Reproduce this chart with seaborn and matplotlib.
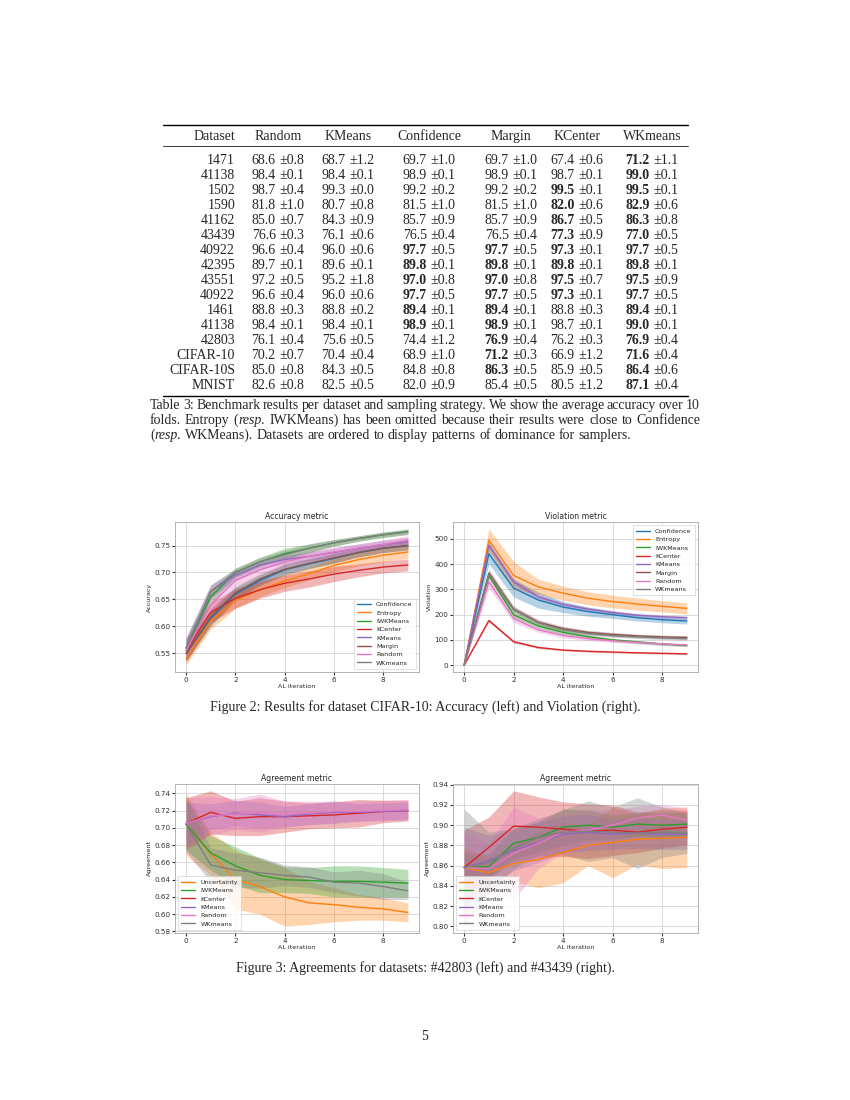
import numpy as np
import pandas as pd
import matplotlib
matplotlib.use("Agg")
import matplotlib.pyplot as plt
from matplotlib.lines import Line2D
from matplotlib.ticker import MultipleLocator
import seaborn as sns

W, H = 850, 1100
SERIF = "Liberation Serif"

# ---------------- Table 3 data ----------------
datasets = ["1471", "41138", "1502", "1590", "41162", "43439", "40922", "42395",
            "43551", "40922", "1461", "41138", "42803", "CIFAR-10", "CIFAR-10S", "MNIST"]
methods = ["Random", "KMeans", "Confidence", "Margin", "KCenter", "WKmeans"]

random_mean = [68.6, 98.4, 98.7, 81.8, 85.0, 76.6, 96.6, 89.7, 97.2, 96.6, 88.8, 98.4, 76.1, 70.2, 85.0, 82.6]
random_sd = [0.8, 0.1, 0.4, 1.0, 0.7, 0.3, 0.4, 0.1, 0.5, 0.4, 0.3, 0.1, 0.4, 0.7, 0.8, 0.8]
kmeans_mean = [68.7, 98.4, 99.3, 80.7, 84.3, 76.1, 96.0, 89.6, 95.2, 96.0, 88.8, 98.4, 75.6, 70.4, 84.3, 82.5]
kmeans_sd = [1.2, 0.1, 0.0, 0.8, 0.9, 0.6, 0.6, 0.1, 1.8, 0.6, 0.2, 0.1, 0.5, 0.4, 0.5, 0.5]
confidence_mean = [69.7, 98.9, 99.2, 81.5, 85.7, 76.5, 97.7, 89.8, 97.0, 97.7, 89.4, 98.9, 74.4, 68.9, 84.8, 82.0]
confidence_sd = [1.0, 0.1, 0.2, 1.0, 0.9, 0.4, 0.5, 0.1, 0.8, 0.5, 0.1, 0.1, 1.2, 1.0, 0.8, 0.9]
margin_mean = [69.7, 98.9, 99.2, 81.5, 85.7, 76.5, 97.7, 89.8, 97.0, 97.7, 89.4, 98.9, 76.9, 71.2, 86.3, 85.4]
margin_sd = [1.0, 0.1, 0.2, 1.0, 0.9, 0.4, 0.5, 0.1, 0.8, 0.5, 0.1, 0.1, 0.4, 0.3, 0.5, 0.5]
kcenter_mean = [67.4, 98.7, 99.5, 82.0, 86.7, 77.3, 97.3, 89.8, 97.5, 97.3, 88.8, 98.7, 76.2, 66.9, 85.9, 80.5]
kcenter_sd = [0.6, 0.1, 0.1, 0.6, 0.5, 0.9, 0.1, 0.1, 0.7, 0.1, 0.3, 0.1, 0.3, 1.2, 0.5, 1.2]
wkmeans_mean = [71.2, 99.0, 99.5, 82.9, 86.3, 77.0, 97.7, 89.8, 97.5, 97.7, 89.4, 99.0, 76.9, 71.6, 86.4, 87.1]
wkmeans_sd = [1.1, 0.1, 0.1, 0.6, 0.8, 0.5, 0.5, 0.1, 0.9, 0.5, 0.1, 0.1, 0.4, 0.4, 0.6, 0.4]

# rows printed in bold for each method
random_bold = []
kmeans_bold = []
confidence_bold = [6, 7, 8, 9, 10, 11]
margin_bold = [6, 7, 8, 9, 10, 11, 12, 13, 14]
kcenter_bold = [2, 3, 4, 5, 6, 7, 8, 9]
wkmeans_bold = list(range(16))

# ---------------- Figure 2 / 3 data ----------------
iterations = list(range(10))

acc_mean = {
    "Confidence": [0.550, 0.615, 0.660, 0.685, 0.705, 0.716, 0.726, 0.737, 0.745, 0.750],
    "Entropy": [0.540, 0.610, 0.648, 0.668, 0.684, 0.698, 0.713, 0.724, 0.732, 0.738],
    "IWKMeans": [0.560, 0.655, 0.700, 0.720, 0.735, 0.745, 0.755, 0.763, 0.770, 0.776],
    "KCenter": [0.555, 0.626, 0.652, 0.668, 0.680, 0.688, 0.697, 0.704, 0.710, 0.714],
    "KMeans": [0.560, 0.665, 0.695, 0.714, 0.724, 0.730, 0.737, 0.745, 0.752, 0.757],
    "Margin": [0.550, 0.618, 0.662, 0.688, 0.706, 0.717, 0.727, 0.737, 0.745, 0.750],
    "Random": [0.555, 0.640, 0.685, 0.705, 0.720, 0.730, 0.738, 0.745, 0.752, 0.760],
    "WKmeans": [0.560, 0.665, 0.700, 0.720, 0.733, 0.745, 0.755, 0.763, 0.770, 0.775],
}
acc_sd = {
    "Confidence": [0.015, 0.015, 0.012, 0.010, 0.010, 0.009, 0.009, 0.008, 0.008, 0.008],
    "Entropy": [0.012, 0.015, 0.015, 0.013, 0.012, 0.012, 0.012, 0.012, 0.012, 0.012],
    "IWKMeans": [0.018, 0.012, 0.008, 0.008, 0.010, 0.008, 0.006, 0.005, 0.005, 0.005],
    "KCenter": [0.020, 0.018, 0.018, 0.016, 0.015, 0.015, 0.014, 0.012, 0.011, 0.011],
    "KMeans": [0.020, 0.012, 0.010, 0.008, 0.008, 0.008, 0.008, 0.008, 0.008, 0.008],
    "Margin": [0.015, 0.015, 0.012, 0.010, 0.010, 0.009, 0.009, 0.008, 0.008, 0.008],
    "Random": [0.020, 0.015, 0.012, 0.010, 0.010, 0.009, 0.009, 0.008, 0.008, 0.008],
    "WKmeans": [0.018, 0.012, 0.008, 0.008, 0.008, 0.008, 0.006, 0.005, 0.005, 0.005],
}

vio_mean = {
    "Confidence": [0, 441, 305, 258, 230, 212, 200, 188, 180, 175],
    "Entropy": [0, 495, 355, 310, 285, 265, 252, 242, 233, 225],
    "IWKMeans": [0, 355, 200, 155, 130, 113, 100, 92, 84, 78],
    "KCenter": [0, 177, 93, 70, 60, 55, 52, 49, 47, 45],
    "KMeans": [0, 475, 330, 270, 240, 222, 208, 198, 192, 188],
    "Margin": [0, 365, 222, 170, 145, 130, 122, 116, 112, 110],
    "Random": [0, 330, 185, 140, 118, 105, 97, 90, 84, 80],
    "WKmeans": [0, 360, 220, 168, 140, 125, 117, 112, 108, 105],
}
vio_sd = {
    "Confidence": [0, 40, 35, 32, 22, 18, 15, 13, 12, 12],
    "Entropy": [0, 45, 55, 30, 28, 26, 25, 24, 22, 22],
    "IWKMeans": [0, 12, 10, 9, 8, 7, 6, 6, 5, 5],
    "KCenter": [0, 6, 5, 4, 3, 3, 3, 3, 3, 3],
    "KMeans": [0, 15, 12, 10, 9, 8, 8, 7, 7, 7],
    "Margin": [0, 15, 12, 10, 9, 8, 8, 7, 7, 7],
    "Random": [0, 25, 15, 10, 9, 8, 7, 6, 6, 6],
    "WKmeans": [0, 12, 10, 9, 8, 7, 6, 6, 6, 6],
}

agl_mean = {
    "Uncertainty": [0.704, 0.670, 0.640, 0.632, 0.620, 0.613, 0.611, 0.608, 0.606, 0.602],
    "IWKMeans": [0.704, 0.671, 0.656, 0.645, 0.640, 0.639, 0.638, 0.638, 0.637, 0.636],
    "KCenter": [0.705, 0.718, 0.711, 0.713, 0.713, 0.714, 0.715, 0.717, 0.719, 0.720],
    "KMeans": [0.705, 0.713, 0.717, 0.715, 0.713, 0.716, 0.718, 0.718, 0.719, 0.720],
    "Random": [0.705, 0.714, 0.716, 0.717, 0.716, 0.717, 0.719, 0.719, 0.720, 0.721],
    "WKmeans": [0.704, 0.657, 0.651, 0.648, 0.645, 0.643, 0.637, 0.636, 0.632, 0.627],
}
agl_sd = {
    "Uncertainty": [0.036, 0.025, 0.034, 0.032, 0.034, 0.025, 0.020, 0.015, 0.013, 0.011],
    "IWKMeans": [0.030, 0.020, 0.022, 0.020, 0.015, 0.015, 0.018, 0.018, 0.017, 0.016],
    "KCenter": [0.030, 0.025, 0.020, 0.022, 0.018, 0.015, 0.015, 0.016, 0.013, 0.012],
    "KMeans": [0.025, 0.015, 0.015, 0.015, 0.012, 0.012, 0.013, 0.010, 0.010, 0.010],
    "Random": [0.030, 0.022, 0.018, 0.022, 0.015, 0.014, 0.012, 0.012, 0.012, 0.012],
    "WKmeans": [0.032, 0.020, 0.020, 0.018, 0.012, 0.012, 0.012, 0.015, 0.015, 0.010],
}

agr_mean = {
    "Uncertainty": [0.858, 0.853, 0.862, 0.866, 0.873, 0.880, 0.883, 0.886, 0.887, 0.888],
    "IWKMeans": [0.858, 0.859, 0.882, 0.888, 0.898, 0.900, 0.898, 0.901, 0.900, 0.901],
    "KCenter": [0.858, 0.878, 0.899, 0.898, 0.896, 0.894, 0.895, 0.893, 0.896, 0.898],
    "KMeans": [0.858, 0.865, 0.875, 0.883, 0.891, 0.893, 0.891, 0.892, 0.891, 0.891],
    "Random": [0.858, 0.857, 0.872, 0.882, 0.893, 0.895, 0.900, 0.907, 0.910, 0.905],
    "WKmeans": [0.858, 0.863, 0.877, 0.888, 0.893, 0.894, 0.893, 0.892, 0.893, 0.892],
}
agr_sd = {
    "Uncertainty": [0.020, 0.015, 0.018, 0.028, 0.030, 0.020, 0.035, 0.025, 0.030, 0.030],
    "IWKMeans": [0.015, 0.012, 0.015, 0.015, 0.018, 0.015, 0.012, 0.012, 0.012, 0.012],
    "KCenter": [0.037, 0.030, 0.035, 0.030, 0.027, 0.027, 0.025, 0.020, 0.019, 0.017],
    "KMeans": [0.040, 0.025, 0.020, 0.020, 0.018, 0.018, 0.015, 0.015, 0.015, 0.015],
    "Random": [0.035, 0.025, 0.046, 0.025, 0.020, 0.020, 0.015, 0.012, 0.010, 0.012],
    "WKmeans": [0.058, 0.030, 0.020, 0.018, 0.022, 0.030, 0.025, 0.035, 0.025, 0.020],
}

tab = sns.color_palette("tab10")
palette = {"Confidence": tab[0], "Entropy": tab[1], "Uncertainty": tab[1], "IWKMeans": tab[2],
           "KCenter": tab[3], "KMeans": tab[4], "Margin": tab[5], "Random": tab[6], "WKmeans": tab[7]}

sns.set_style("whitegrid", {"axes.edgecolor": ".65", "grid.color": ".82",
                            "xtick.bottom": True, "ytick.left": True})
plt.rcParams.update({"font.size": 4.6, "axes.titlesize": 5.6, "axes.labelsize": 4.6,
                     "xtick.labelsize": 5.2, "ytick.labelsize": 5.2, "legend.fontsize": 4.6,
                     "xtick.major.size": 2, "ytick.major.size": 2, "xtick.major.pad": 1.5,
                     "ytick.major.pad": 1.5, "axes.linewidth": 0.6, "grid.linewidth": 0.55,
                     "xtick.color": ".2", "ytick.color": ".2"})

fig = plt.figure(figsize=(W / 100, H / 100), dpi=100)


def fy(y):
    return 1 - y / H


def px_axes(x0, y0, x1, y1):
    return fig.add_axes([x0 / W, 1 - y1 / H, (x1 - x0) / W, (y1 - y0) / H])


def hline(x0, x1, y, lw):
    fig.add_artist(Line2D([x0 / W, x1 / W], [fy(y), fy(y)], color="black", lw=lw))


def serif_text(x, y, s, ha="left", weight="normal", style="normal"):
    return fig.text(x / W, fy(y), s, family=SERIF, size=10, ha=ha, va="baseline",
                    weight=weight, style=style)


# ---------------- table ----------------
col_x = [278, 348, 429, 511, 577, 652]
means = [random_mean, kmeans_mean, confidence_mean, margin_mean, kcenter_mean, wkmeans_mean]
sds = [random_sd, kmeans_sd, confidence_sd, margin_sd, kcenter_sd, wkmeans_sd]
bolds = [random_bold, kmeans_bold, confidence_bold, margin_bold, kcenter_bold, wkmeans_bold]

hline(163, 688, 125, 1.0)
hline(163, 688, 146, 0.55)
hline(163, 688, 396, 1.0)

serif_text(235, 140, "Dataset", ha="right")
for cx, name in zip(col_x, methods):
    serif_text(cx, 140, name, ha="center")

for i, ds in enumerate(datasets):
    yb = 164 + 15 * i
    serif_text(235, yb, ds, ha="right")
    for cx, m, s, b in zip(col_x, means, sds, bolds):
        serif_text(cx - 2.3, yb, f"{m[i]:.1f}", ha="right",
                   weight="bold" if i in b else "normal")
        serif_text(cx + 1.2, yb, f"\u00b1{s[i]:.1f}", ha="left")


# ---------------- captions ----------------
def caption_line(y, text, x0=150, x1=700, justify=True):
    renderer = fig.canvas.get_renderer()
    words = []
    for w in text.split(" "):
        arts = []
        for k, seg in enumerate(w.split("*")):
            if seg:
                arts.append(serif_text(0, y, seg, style="italic" if k % 2 else "normal"))
        words.append(arts)
    widths = [[a.get_window_extent(renderer).width for a in arts] for arts in words]
    total = sum(sum(ws) for ws in widths)
    gap = (x1 - x0 - total) / (len(words) - 1) if justify else 3.5
    x = x0
    for arts, ws in zip(words, widths):
        for a, wd in zip(arts, ws):
            a.set_x(x / W)
            x += wd
        x += gap


caption_line(409, "Table 3: Benchmark results per dataset and sampling strategy. We show the average accuracy over 10")
caption_line(424, "folds. Entropy (*resp.* IWKMeans) has been omitted because their results were close to Confidence")
caption_line(439, "(*resp.* WKMeans). Datasets are ordered to display patterns of dominance for samplers.", justify=False)

serif_text(425, 711, "Figure 2: Results for dataset CIFAR-10: Accuracy (left) and Violation (right).", ha="center")
serif_text(425, 972, "Figure 3: Agreements for datasets: #42803 (left) and #43439 (right).", ha="center")
serif_text(425, 1040, "5", ha="center")


# ---------------- plots ----------------
def draw_metric(ax, mean, sd, title, ylabel, legend_loc, step):
    rows = []
    for name, vals in mean.items():
        for it, v in zip(iterations, vals):
            rows.append((it, name, v))
    df = pd.DataFrame(rows, columns=["iteration", "sampler", "value"])
    for name in mean:
        m = np.array(mean[name])
        s = np.array(sd[name])
        ax.fill_between(iterations, m - s, m + s, color=palette[name], alpha=0.33, lw=0)
    sns.lineplot(data=df, x="iteration", y="value", hue="sampler", palette=palette,
                 linewidth=1.0, ax=ax)
    ax.set_title(title, pad=2.5)
    ax.set_xlabel("AL iteration", labelpad=1)
    ax.set_ylabel(ylabel, labelpad=1.5)
    ax.xaxis.set_major_locator(MultipleLocator(2))
    ax.yaxis.set_major_locator(MultipleLocator(step))
    leg = ax.legend(loc=legend_loc, frameon=True, fancybox=False, edgecolor=".8",
                    framealpha=0.85, handlelength=2.2, borderpad=0.5, labelspacing=0.45)
    leg.get_frame().set_linewidth(0.5)


ax1 = px_axes(175, 522, 419, 672)
draw_metric(ax1, acc_mean, acc_sd, "Accuracy metric", "Accuracy", "lower right", 0.05)
ax2 = px_axes(453, 522, 698, 672)
draw_metric(ax2, vio_mean, vio_sd, "Violation metric", "Violation", "upper right", 100)
ax3 = px_axes(175, 784, 419, 933)
draw_metric(ax3, agl_mean, agl_sd, "Agreement metric", "Agreement", "lower left", 0.02)
ax4 = px_axes(453, 784, 698, 933)
draw_metric(ax4, agr_mean, agr_sd, "Agreement metric", "Agreement", "lower left", 0.02)

fig.savefig("out.png", dpi=100)
